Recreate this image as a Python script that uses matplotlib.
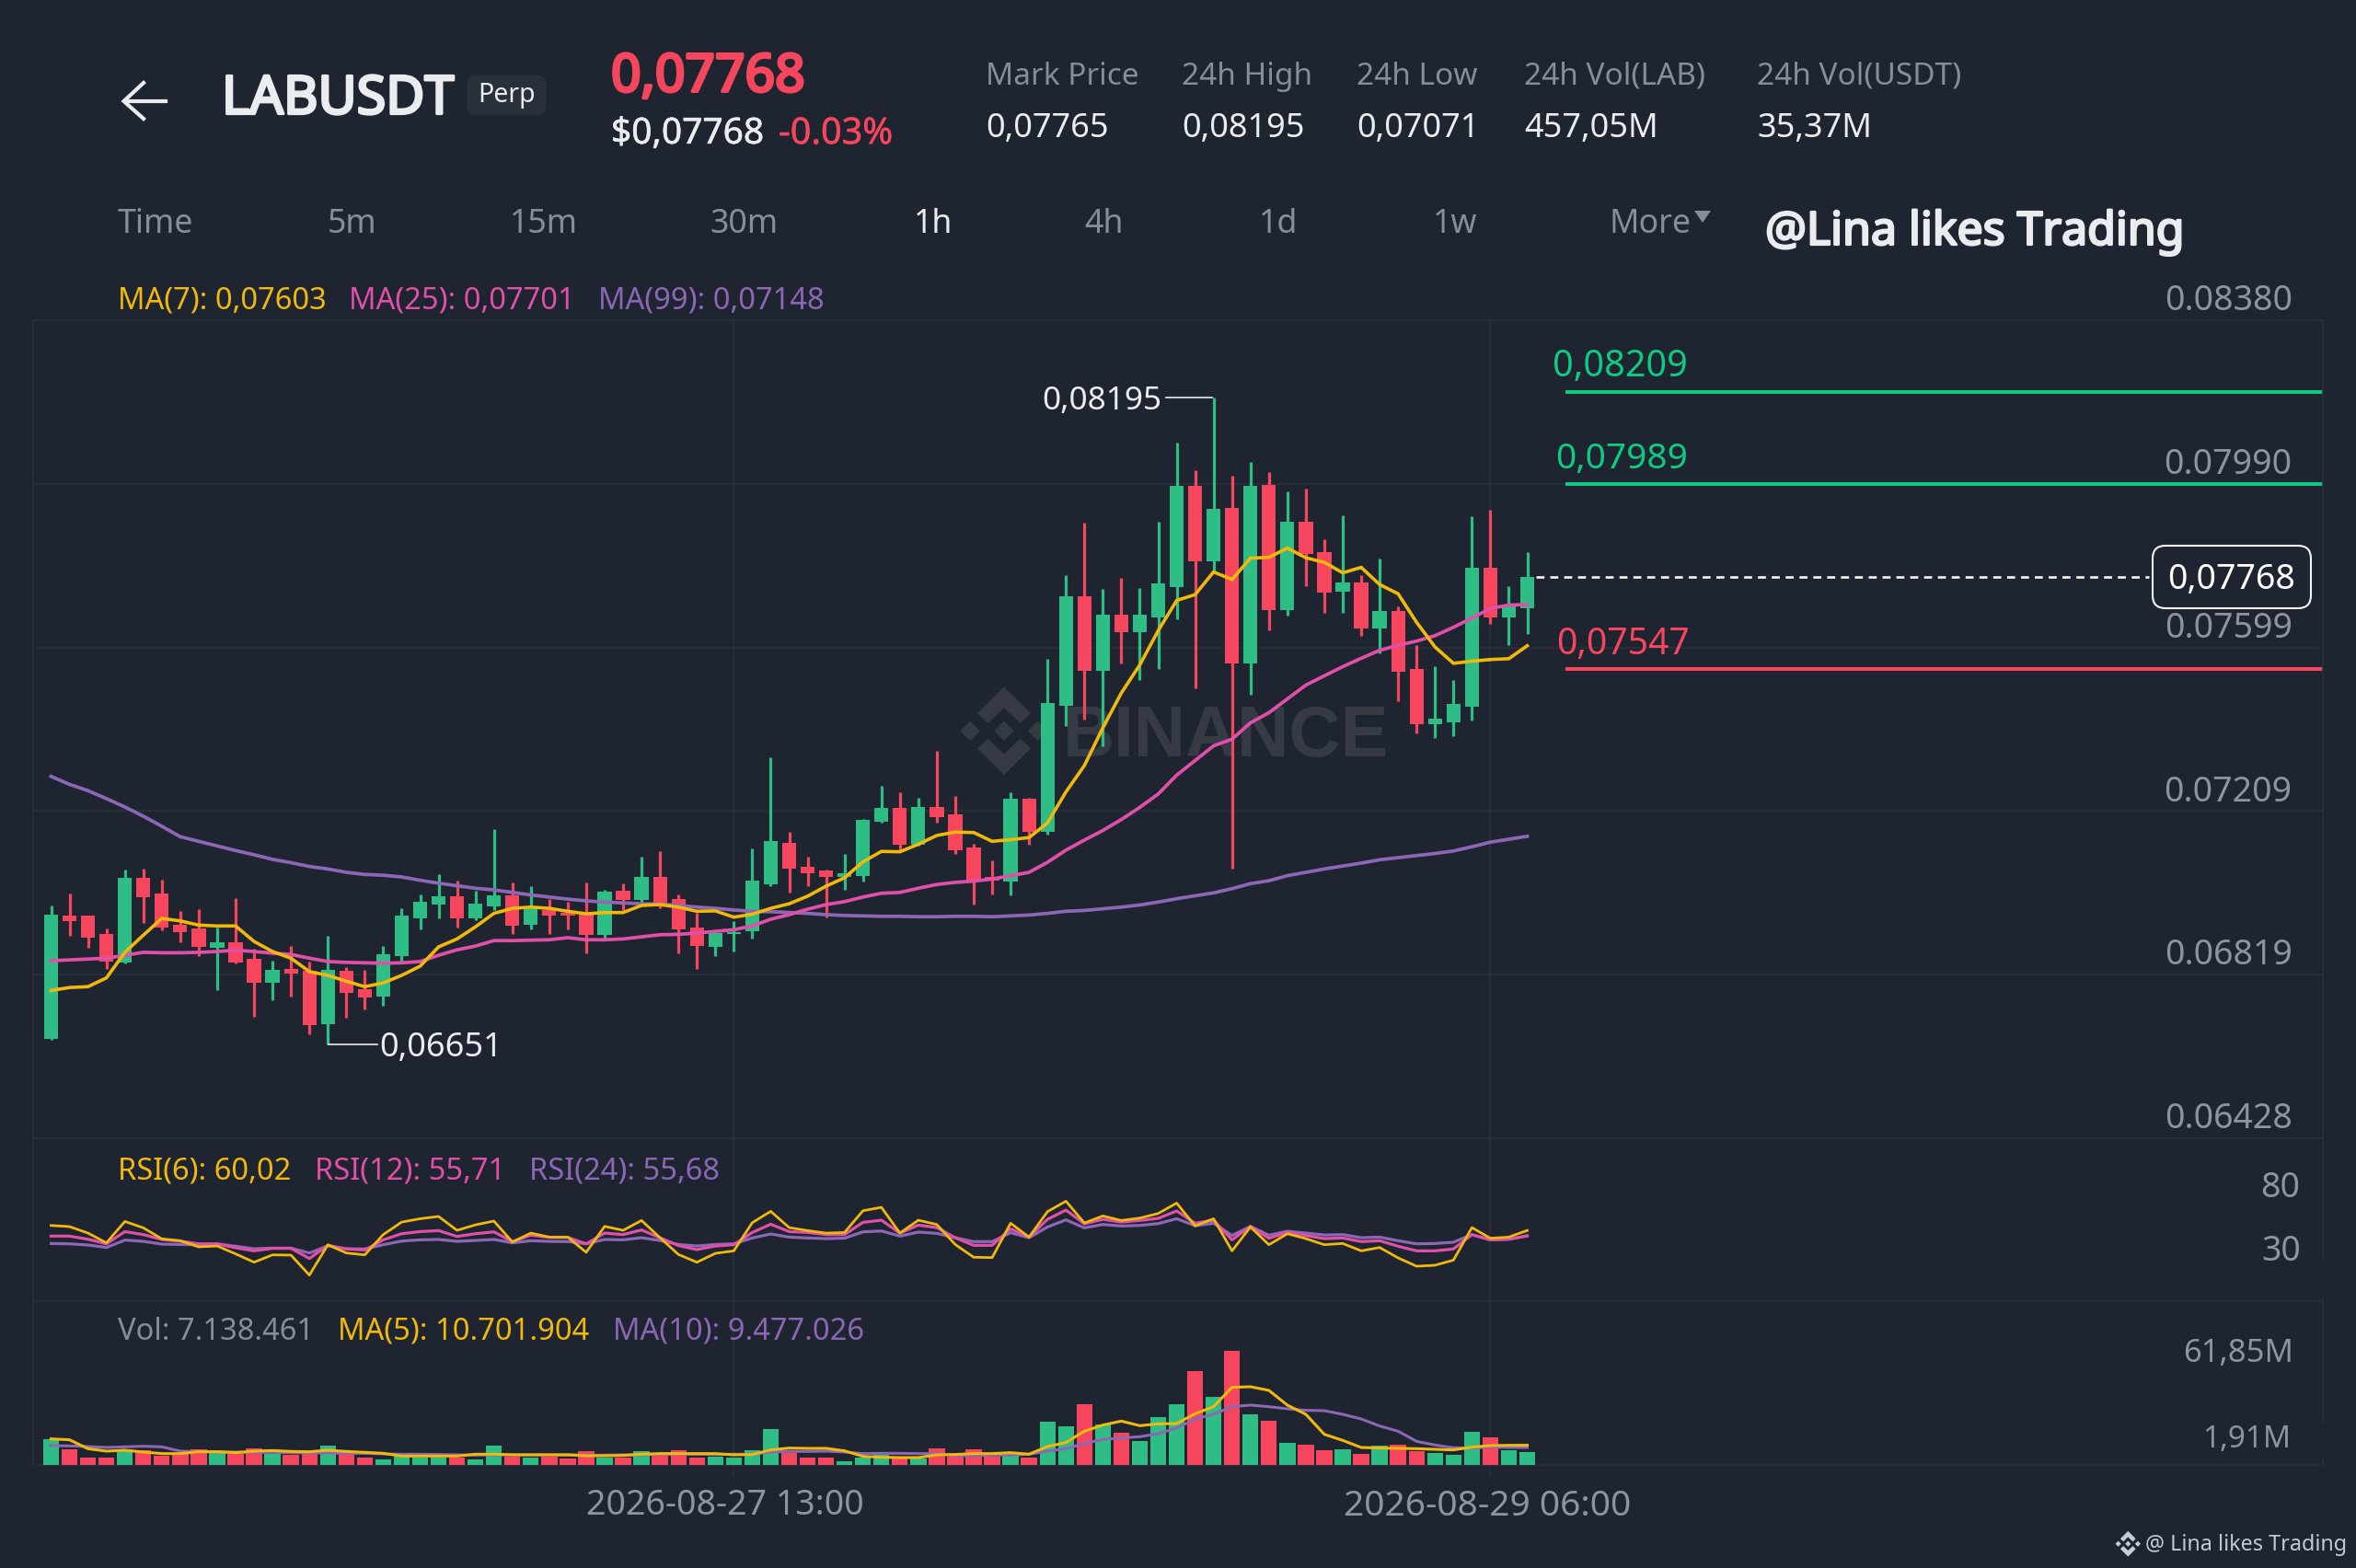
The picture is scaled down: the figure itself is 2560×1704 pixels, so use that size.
import numpy as np
import matplotlib
matplotlib.use("Agg")
import matplotlib.pyplot as plt
import matplotlib.patheffects as pe
from matplotlib.patches import FancyBboxPatch, Polygon

plt.rcParams["font.family"] = ["Noto Sans", "DejaVu Sans"]

opens = [
    .06664, .06959, .06958, .06914, .06846, .07049, .07012, .06937, .06928, .06882,
    .06894, .06855, .06798, .06831, .06827, .06700, .06827, .06784, .06766, .06861,
    .06952, .06986, .07005, .06952, .06980, .07006, .06936, .06972, .06966, .06965,
    .06912, .07018, .06997, .07050, .06998, .06931, .06885, .06914, .06921, .07034,
    .07132, .07076, .07066, .07050, .07054, .07182, .07216, .07127, .07217, .07201,
    .07122, .07052, .07040, .07238, .07159, .07460, .07721, .07543, .07677, .07635,
    .07670, .07743, .07984, .07804, .07932, .07560, .07987, .07688, .07900, .07826,
    .07731, .07755, .07645, .07685, .07547, .07415, .07421, .07457, .07788, .07670,
    .07692,
]
highs = [
    .06983, .07011, .06958, .06928, .07068, .07071, .07045, .06969, .06975, .06930,
    .07000, .06879, .06851, .06887, .06849, .06910, .06835, .06830, .06887, .06976,
    .07010, .07058, .07042, .07018, .07166, .07038, .07030, .06998, .06991, .07038,
    .07020, .07036, .07100, .07113, .07010, .06966, .06917, .06946, .07120, .07337,
    .07158, .07100, .07069, .07107, .07190, .07268, .07252, .07240, .07353, .07244,
    .07131, .07091, .07252, .07240, .07571, .07772, .07896, .07738, .07765, .07741,
    .07898, .08088, .08023, .08195, .08009, .08042, .08018, .07972, .07977, .07857,
    .07914, .07771, .07812, .07696, .07605, .07553, .07520, .07913, .07928, .07746,
    .07827,
]
lows = [
    .06662, .06910, .06881, .06831, .06845, .06942, .06923, .06895, .06862, .06780,
    .06845, .06717, .06756, .06766, .06676, .06651, .06714, .06735, .06743, .06849,
    .06925, .06953, .06930, .06948, .06972, .06915, .06926, .06914, .06925, .06869,
    .06904, .06972, .06988, .06977, .06869, .06832, .06863, .06872, .06903, .07029,
    .07014, .07030, .06954, .07021, .07039, .07180, .07115, .07125, .07180, .07107,
    .06984, .07010, .07006, .07128, .07152, .07411, .07427, .07363, .07560, .07520,
    .07547, .07666, .07501, .07776, .07071, .07487, .07639, .07674, .07746, .07681,
    .07682, .07627, .07584, .07470, .07394, .07382, .07386, .07425, .07655, .07604,
    .07631,
]
closes = [
    .06961, .06946, .06907, .06849, .07048, .07003, .06930, .06919, .06884, .06894,
    .06846, .06799, .06830, .06820, .06698, .06829, .06775, .06764, .06867, .06958,
    .06991, .07004, .06952, .06988, .07007, .06934, .06977, .06958, .06958, .06913,
    .07015, .06997, .07050, .06985, .06925, .06887, .06917, .06919, .07042, .07136,
    .07071, .07059, .07051, .07060, .07187, .07215, .07127, .07217, .07194, .07114,
    .07043, .07042, .07238, .07159, .07466, .07721, .07543, .07678, .07635, .07677,
    .07751, .07984, .07804, .07929, .07560, .07984, .07688, .07900, .07821, .07729,
    .07755, .07645, .07686, .07540, .07415, .07429, .07465, .07788, .07670, .07702,
    .07768,
]
ma7 = [
    .06780, .06787, .06789, .06810, .06871, .06912, .06952, .06946, .06936, .06934,
    .06934, .06897, .06873, .06857, .06825, .06816, .06802, .06789, .06798, .06816,
    .06838, .06884, .06903, .06932, .06964, .06976, .06979, .06976, .06969, .06963,
    .06966, .06966, .06983, .06985, .06979, .06969, .06970, .06955, .06962, .06976,
    .06987, .07005, .07029, .07049, .07087, .07112, .07111, .07129, .07150, .07158,
    .07157, .07136, .07140, .07145, .07180, .07254, .07317, .07407, .07490, .07557,
    .07639, .07711, .07725, .07779, .07761, .07812, .07814, .07836, .07813, .07802,
    .07777, .07790, .07749, .07727, .07659, .07600, .07561, .07566, .07570, .07572,
    .07603,
]
ma25 = [
    .06851, .06853, .06855, .06857, .06864, .06871, .06870, .06870, .06871, .06873,
    .06876, .06873, .06869, .06866, .06857, .06849, .06847, .06846, .06845, .06846,
    .06849, .06864, .06877, .06886, .06899, .06899, .06900, .06901, .06906, .06901,
    .06901, .06903, .06908, .06913, .06914, .06917, .06921, .06925, .06934, .06950,
    .06961, .06974, .06985, .06992, .07003, .07012, .07014, .07024, .07033, .07038,
    .07041, .07046, .07054, .07062, .07086, .07115, .07139, .07162, .07188, .07217,
    .07249, .07294, .07329, .07364, .07380, .07419, .07443, .07476, .07509, .07531,
    .07553, .07573, .07592, .07604, .07614, .07627, .07647, .07669, .07692, .07700,
    .07701,
]
ma99 = [
    .07291, .07272, .07257, .07238, .07218, .07196, .07172, .07147, .07136, .07125,
    .07114, .07104, .07093, .07085, .07076, .07070, .07062, .07057, .07055, .07051,
    .07043, .07036, .07030, .07024, .07020, .07014, .07008, .07003, .06998, .06994,
    .06991, .06989, .06987, .06986, .06983, .06979, .06976, .06972, .06969, .06968,
    .06966, .06964, .06961, .06959, .06958, .06957, .06957, .06956, .06956, .06957,
    .06957, .06956, .06958, .06960, .06964, .06969, .06971, .06975, .06979, .06984,
    .06991, .06999, .07006, .07013, .07023, .07035, .07042, .07054, .07062, .07070,
    .07077, .07084, .07092, .07097, .07102, .07107, .07113, .07123, .07134, .07141,
    .07148,
]
rsi6 = [
    64.0, 63.1, 57.9, 50.1, 67.2, 62.1, 53.3, 51.8, 46.9, 47.6,
    41.3, 34.6, 40.5, 40.3, 24.3, 48.6, 42.0, 40.5, 56.7, 66.7,
    69.4, 71.2, 60.1, 64.5, 67.5, 50.8, 57.9, 54.7, 54.7, 42.5,
    63.3, 60.1, 68.0, 54.2, 40.8, 34.6, 41.7, 43.7, 66.2, 75.3,
    62.3, 59.9, 57.9, 58.4, 75.8, 78.5, 57.9, 68.2, 64.8, 48.8,
    38.6, 38.3, 65.8, 54.7, 75.1, 83.4, 66.0, 71.6, 68.0, 69.9,
    73.6, 81.9, 63.6, 69.4, 43.7, 62.8, 48.6, 57.4, 53.5, 48.6,
    49.6, 43.7, 46.4, 38.1, 31.4, 32.2, 36.3, 62.3, 53.8, 54.7,
    60.02,
]
rsi12 = [
    55.5, 55.5, 53.0, 49.3, 59.1, 56.7, 52.8, 51.5, 49.3, 49.3,
    46.2, 43.7, 45.7, 45.7, 37.6, 48.1, 45.2, 44.4, 52.5, 57.4,
    59.1, 59.9, 55.2, 57.4, 58.9, 51.1, 56.2, 54.5, 54.5, 49.3,
    57.9, 56.7, 60.4, 54.2, 47.9, 44.7, 47.6, 48.6, 58.4, 65.0,
    59.1, 58.4, 56.7, 56.7, 66.5, 68.2, 57.9, 64.3, 62.3, 54.2,
    48.1, 48.1, 61.3, 54.7, 68.9, 76.3, 65.3, 68.9, 66.7, 68.0,
    69.7, 75.6, 65.8, 68.2, 52.5, 63.3, 53.8, 58.4, 56.0, 53.5,
    54.0, 51.1, 51.8, 47.4, 43.7, 43.7, 45.2, 56.7, 52.5, 53.0,
    55.71,
]
rsi24 = [
    49.6, 49.3, 48.4, 46.4, 52.3, 51.3, 49.1, 48.8, 48.6, 49.3,
    47.4, 45.4, 45.9, 45.9, 42.0, 47.6, 45.4, 45.2, 48.6, 51.5,
    52.5, 52.8, 51.3, 52.0, 52.8, 50.1, 51.8, 51.3, 51.1, 49.3,
    52.8, 52.5, 54.2, 52.0, 48.8, 47.6, 48.8, 49.3, 54.0, 57.2,
    54.7, 54.0, 53.5, 53.8, 58.9, 59.6, 55.5, 58.7, 57.7, 54.2,
    51.1, 51.1, 58.2, 54.2, 62.8, 68.5, 62.1, 64.8, 63.6, 64.0,
    65.5, 69.4, 63.8, 65.8, 56.0, 63.3, 56.2, 59.4, 57.9, 56.4,
    56.7, 54.2, 54.7, 51.8, 49.3, 49.6, 50.6, 56.7, 52.5, 53.0,
    55.68,
]
volumes = [
    13.83, 8.33, 4.17, 4.17, 8.67, 7.83, 5.0, 5.83, 8.33, 6.67,
    6.17, 9.0, 5.83, 5.5, 6.67, 10.33, 6.17, 3.83, 3.0, 5.5,
    4.17, 4.17, 4.17, 3.0, 10.67, 4.67, 4.17, 4.67, 3.5, 7.5,
    4.17, 4.17, 7.5, 5.5, 8.17, 4.0, 4.33, 4.0, 7.83, 19.5,
    6.67, 4.17, 4.17, 1.83, 3.83, 5.5, 3.83, 3.5, 9.17, 4.5,
    8.67, 4.5, 5.83, 4.17, 23.5, 21.0, 33.17, 22.17, 17.5, 12.83,
    26.17, 32.83, 51.0, 37.0, 61.85, 27.67, 24.17, 12.0, 11.17, 8.0,
    8.67, 6.17, 10.33, 11.17, 7.33, 6.33, 5.5, 18.0, 15.17, 7.83,
    7.14,
]
vol_ma5 = [
    14.17, 13.67, 8.83, 7.5, 8.0, 7.0, 6.17, 6.17, 7.17, 7.17,
    6.67, 7.5, 7.83, 7.33, 7.17, 8.0, 7.33, 6.83, 6.33, 4.83,
    4.83, 4.83, 4.83, 5.83, 5.83, 5.5, 5.5, 5.5, 5.5, 5.0,
    5.0, 5.17, 5.83, 6.17, 6.17, 6.17, 6.17, 5.5, 5.67, 8.17,
    9.17, 9.0, 9.0, 7.67, 4.67, 4.17, 4.0, 4.0, 5.5, 5.67,
    6.17, 6.17, 6.67, 5.83, 10.0, 12.17, 18.33, 21.67, 23.83, 21.33,
    22.33, 22.5, 27.83, 31.67, 42.17, 42.5, 40.5, 32.5, 27.5, 16.67,
    13.33, 9.5, 9.17, 9.0, 8.83, 8.5, 8.17, 9.67, 10.5, 10.67,
    10.70,
]
vol_ma10 = [
    10.5, 10.33, 10.0, 9.5, 9.83, 10.17, 9.83, 7.5, 7.17, 7.17,
    7.0, 6.83, 6.83, 6.67, 6.5, 6.5, 6.33, 6.33, 6.0, 5.83,
    5.83, 5.67, 5.5, 5.33, 5.5, 5.5, 5.5, 5.5, 5.5, 5.33,
    5.33, 5.5, 5.5, 5.83, 5.83, 5.83, 5.67, 5.83, 5.83, 7.0,
    7.33, 7.33, 7.5, 7.0, 6.17, 6.33, 6.33, 6.17, 6.17, 5.0,
    5.0, 5.33, 5.33, 5.83, 7.5, 8.83, 11.67, 13.83, 14.67, 15.33,
    17.0, 20.0, 25.0, 27.5, 31.67, 32.5, 31.67, 30.5, 29.67, 29.5,
    27.5, 25.0, 21.17, 18.33, 12.83, 10.83, 9.33, 9.17, 9.67, 9.5,
    9.48,
]

price_ticks = [0.08380, 0.07990, 0.07599, 0.07209, 0.06819, 0.06428]
price_labels = ["0.08380", "0.07990", "0.07599", "0.07209", "0.06819", "0.06428"]
date_ticks = [37, 78]
date_labels = ["2026-08-27 13:00", "2026-08-29 06:00"]
targets = [(0.08209, "0,08209", "up"), (0.07989, "0,07989", "up"), (0.07547, "0,07547", "down")]
last_price = 0.07768

BG = "#1E2530"
GRID = "#2A303B"
GREEN = "#2EBD85"
RED = "#F6465D"
LINE_GREEN = "#0ECB81"
YELLOW = "#F0B90B"
PINK = "#E04FA8"
PURPLE = "#8C67B5"
GRAY = "#848E9C"
AXGRAY = "#8F939D"
WHITE = "#EAECEF"
MARK = "#363A45"

W, H = 2560, 1704
fig = plt.figure(figsize=(W / 100, H / 100), dpi=100, facecolor=BG)


def pane(top, bottom, left=36, right=2524, z=1):
    a = fig.add_axes([left / W, 1 - bottom / H, (right - left) / W, (bottom - top) / H], zorder=z)
    a.patch.set_visible(False)
    for s in a.spines.values():
        s.set_visible(False)
    a.set_xticks([])
    a.set_yticks([])
    a.set_xlim((left - 55.5) / 20.05, (right - 55.5) / 20.05)
    return a


bg_ax = fig.add_axes([0, 0, 1, 1], zorder=0)
bg_ax.set_xlim(0, W)
bg_ax.set_ylim(H, 0)
bg_ax.axis("off")

ax = pane(348, 1236.6)
ax_rsi = pane(1236.6, 1414)
ax_vol = pane(1414, 1592)

over = fig.add_axes([0, 0, 1, 1], zorder=5)
over.patch.set_visible(False)
over.set_xlim(0, W)
over.set_ylim(H, 0)
over.axis("off")


def put(x, y, s, color=WHITE, size=26, ha="left", heavy=0, family=None, target=None):
    # y is the middle of the digits, baseline is worked out from the font size
    base = y + 0.357 * size * 100 / 72
    t = (target or over).text(x, base, s, color=color, fontsize=size, ha=ha, va="baseline")
    if family:
        t.set_fontfamily(family)
        t.set_fontweight("bold")
    if heavy:
        # the installed Noto Sans has no bold cut, so thicken the outline
        t.set_path_effects([pe.withStroke(linewidth=heavy, foreground=color)])
    return t


def logo(a, cx, cy, k, color):
    top = [(0, -48), (-29, -19), (-17.5, -8.3), (0, -25.3), (17.5, -8.3), (29, -19)]
    parts = [top, [(px, -py) for px, py in top]]
    for dx in (-36.7, 0, 36.7):
        parts.append([(dx - 10.7, 0), (dx, -10.7), (dx + 10.7, 0), (dx, 10.7)])
    for p in parts:
        a.add_patch(Polygon([(cx + k * px, cy + k * py) for px, py in p], closed=True, fc=color, ec="none"))


# watermark
logo(bg_ax, 1091, 794.3, 1.0, MARK)
put(1155, 794.5, "BINANCE", color=MARK, size=56, family="Liberation Sans", target=bg_ax)

x = np.arange(len(closes))
o, h, l, c = map(np.array, (opens, highs, lows, closes))
colors = [GREEN if cc >= oo else RED for oo, cc in zip(o, c)]

# grid
ax.set_ylim(0.06428, 0.08380)
ax_rsi.set_ylim(3.5, 134)
ax_vol.set_ylim(0, 89)
x0, x1 = ax.get_xlim()
ax.hlines(price_ticks, x0, x1, color=GRID, lw=1.2, clip_on=False, zorder=0)
ax_rsi.hlines([3.5], x0, x1, color=GRID, lw=1.2, clip_on=False, zorder=0)
ax_vol.hlines([0], x0, x1, color=GRID, lw=1.2, clip_on=False, zorder=0)
for a in (ax, ax_rsi):
    a.vlines(date_ticks, *a.get_ylim(), color=GRID, lw=1.2, zorder=0)
ax_vol.vlines(date_ticks, -6.5, 89, color=GRID, lw=1.2, clip_on=False, zorder=0)
over.vlines([36], 348, 1592, color=GRID, lw=1.2)
over.vlines([2524] * 3, [348, 1410, 1585], [1369, 1547, 1592], color=GRID, lw=1.2)

# candles
ax.vlines(x, l, h, colors=colors, lw=2.3, zorder=2)
ax.bar(x, np.maximum(np.abs(c - o), 0.00002), bottom=np.minimum(o, c), width=0.76, color=colors, zorder=3)
ax.plot(x, ma99, color=PURPLE, lw=2.7, zorder=4, solid_joinstyle="miter")
ax.plot(x, ma25, color=PINK, lw=2.7, zorder=5, solid_joinstyle="miter")
ax.plot(x, ma7, color=YELLOW, lw=2.6, zorder=6, solid_joinstyle="miter")

# targets and last price
for price, label, side in targets:
    col = LINE_GREEN if side == "up" else RED
    ax.hlines(price, 82.05, x1, color=col, lw=2.9, zorder=3)
ax.hlines(last_price, 80.45, 113.7, color="#F5F5F5", lw=1.9, linestyles=(0, (3.3, 2.4)), zorder=7)

# rsi
ax_rsi.plot(x, rsi24, color=PURPLE, lw=2.3)
ax_rsi.plot(x, rsi12, color=PINK, lw=2.3)
ax_rsi.plot(x, rsi6, color=YELLOW, lw=2.0)

# volume
ax_vol.bar(x, volumes, width=0.865, color=colors, zorder=2)
ax_vol.plot(x, vol_ma10, color=PURPLE, lw=2.2, zorder=3)
ax_vol.plot(x, vol_ma5, color=YELLOW, lw=2.2, zorder=4)

# price axis labels sit above their grid lines
for p, s in zip(price_ticks, price_labels):
    ax.annotate(s, (1, p), xycoords=ax.get_yaxis_transform(), xytext=(-24, 7.6),
                textcoords="offset points", color=AXGRAY, fontsize=27, ha="right", va="baseline")

put(2499, 1288, "80", color=AXGRAY, size=27, ha="right")
put(2500, 1357, "30", color=AXGRAY, size=27, ha="right")
put(2492, 1468, "61,85M", color=AXGRAY, size=25, ha="right")
put(2489, 1561, "1,91M", color=AXGRAY, size=24, ha="right")

put(788, 1633, date_labels[0], color=AXGRAY, size=27, ha="center")
put(1616, 1633, date_labels[1], color=AXGRAY, size=28, ha="center")

# header
over.plot([156, 134.5, 156], [90, 110, 129], color=WHITE, lw=3, solid_joinstyle="miter")
over.plot([136, 180], [110, 110], color=WHITE, lw=3)
put(241, 103, "LABUSDT", size=41.5, heavy=2.2)
over.add_patch(FancyBboxPatch((511, 85), 79, 37, boxstyle="round,pad=0,rounding_size=6",
                              fc="#2A303A", ec="#2A303A", lw=5))
put(550.5, 101, "Perp", size=20.5, ha="center")
put(664, 79, "0,07768", color=RED, size=41, heavy=2.4)
put(664, 142, "$0,07768", size=28, heavy=0.4)
put(846, 142, "-0.03%", color=RED, size=28.5, heavy=0.4)

stats = [("Mark Price", "0,07765", 1071), ("24h High", "0,08195", 1284), ("24h Low", "0,07071", 1474),
         ("24h Vol(LAB)", "457,05M", 1656), ("24h Vol(USDT)", "35,37M", 1909)]
for name, val, sx in stats:
    put(sx, 80, name, color=GRAY, size=24)
    put(sx, 136, val, size=26)

tabs = [("Time", 128), ("5m", 355.5), ("15m", 554), ("30m", 771.5), ("1h", 992.5), ("4h", 1178),
        ("1d", 1367.5), ("1w", 1556.5), ("More", 1748.5)]
for name, tx in tabs:
    put(tx, 240, name, color=WHITE if name == "1h" else GRAY, size=25.7)
over.add_patch(Polygon([(1841, 229), (1859, 229), (1850, 242)], closed=True, fc=GRAY, ec="none"))
put(1918, 248, "@Lina likes Trading", size=36, heavy=1.8)

# legends
for s, lx, col in [("MA(7): 0,07603", 128, YELLOW), ("MA(25): 0,07701", 379, PINK), ("MA(99): 0,07148", 650, PURPLE)]:
    put(lx, 324, s, color=col, size=23.5)
for s, lx, col in [("RSI(6): 60,02", 128, YELLOW), ("RSI(12): 55,71", 342, PINK), ("RSI(24): 55,68", 575, PURPLE)]:
    put(lx, 1270, s, color=col, size=23.5)
for s, lx, col in [("Vol: 7.138.461", 128, GRAY), ("MA(5): 10.701.904", 367, YELLOW), ("MA(10): 9.477.026", 666, PURPLE)]:
    put(lx, 1444, s, color=col, size=23.5)

# extremes and target labels
over.plot([1266.5, 1317], [432, 432], color=WHITE, lw=1.2)
put(1262, 432, "0,08195", ha="right", size=25.3)
over.plot([356.5, 410], [1135, 1135], color=WHITE, lw=1.2)
put(412, 1135, "0,06651", size=26)
for (price, label, side), tx, ty, fs in zip(targets, [1687, 1690, 1691], [395, 495, 697], [28.5, 28, 28.2]):
    put(tx, ty, label, color=LINE_GREEN if side == "up" else RED, size=fs)

# last price box
over.add_patch(FancyBboxPatch((2339, 593), 172, 68, boxstyle="round,pad=0,rounding_size=14",
                              fc=BG, ec="#F5F5F5", lw=1.5))
put(2425, 627, "0,07768", size=27, ha="center", color="#FFFFFF")

# bottom right signature
logo(over, 2312.3, 1677.7, 0.29, "#C8CCD4")
put(2331, 1677, "@ Lina likes Trading", color="#C4C8D0", size=16.8)

fig.savefig("out.png", dpi=100, facecolor=BG)
